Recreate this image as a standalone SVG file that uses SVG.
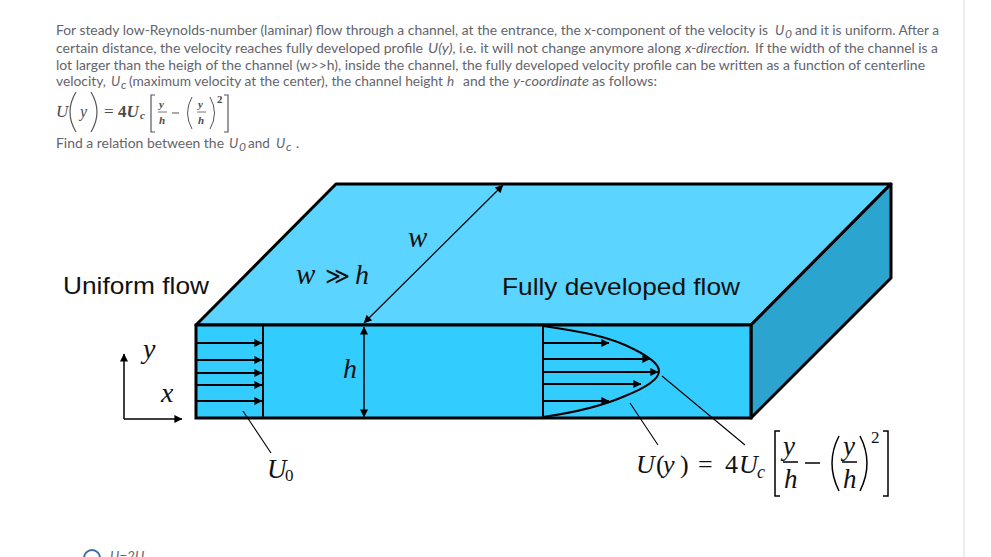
<svg xmlns="http://www.w3.org/2000/svg" width="991" height="557" viewBox="0 0 991 557">
<style>
.t{font-family:"Lato","Open Sans","Liberation Sans",sans-serif;font-size:13.5px;fill:#64646c}
.i{font-style:italic}
.s{font-size:12px}
.f{font-family:"Liberation Serif","DejaVu Serif",serif;fill:#4a4a4a}
.m{font-family:"Liberation Serif","DejaVu Serif",serif;fill:#111}
.mi{font-style:italic}
.l{font-family:"Liberation Sans",Arial,sans-serif;font-size:24.5px;fill:#111}
.k{stroke:#000;fill:none}
.e{stroke:#000;fill:none;stroke-width:2}
.a{stroke:#000;fill:none;stroke-width:1.8}
.b{stroke-linejoin:round}
</style>
<defs>
<marker id="ah" viewBox="0 0 10 10" refX="9.5" refY="5" markerWidth="9" markerHeight="8" markerUnits="userSpaceOnUse" orient="auto-start-reverse"><path d="M0 0L10 5L0 10Z" fill="#000"/></marker>
</defs>
<rect width="991" height="557" fill="#fff"/>
<rect x="963" y="0" width="2" height="557" fill="#eeeeee"/>
<g id="question-text">
<text class="t" x="56" y="35" textLength="712" lengthAdjust="spacingAndGlyphs">For steady low-Reynolds-number (laminar) flow through a channel, at the entrance, the x-component of the velocity is</text>
<text class="t i" x="775" y="35">U</text><text class="t i s" x="785" y="38">0</text>
<text class="t" x="795" y="35" textLength="144" lengthAdjust="spacingAndGlyphs">and it is uniform. After a</text>
<text class="t" x="56" y="53" textLength="367" lengthAdjust="spacingAndGlyphs">certain distance, the velocity reaches fully developed profile</text>
<text class="t i" x="428" y="53" textLength="28" lengthAdjust="spacingAndGlyphs">U(y),</text>
<text class="t" x="459" y="53" textLength="222" lengthAdjust="spacingAndGlyphs">i.e.  it will not change anymore along</text>
<text class="t i" x="685" y="53" textLength="65" lengthAdjust="spacingAndGlyphs">x-direction.</text>
<text class="t" x="755" y="53" textLength="183" lengthAdjust="spacingAndGlyphs">If the width of the channel is a</text>
<text class="t" x="56" y="70" textLength="869" lengthAdjust="spacingAndGlyphs">lot larger than the heigh of the channel (w&gt;&gt;h), inside the channel, the fully developed velocity profile can be written as a function of centerline</text>
<text class="t" x="56" y="86" textLength="50" lengthAdjust="spacingAndGlyphs">velocity,</text>
<text class="t i" x="111" y="86">U</text><text class="t i s" x="121" y="89">c</text>
<text class="t" x="129" y="86" textLength="314" lengthAdjust="spacingAndGlyphs">(maximum velocity at the center), the channel height</text>
<text class="t i" x="447" y="86">h</text>
<text class="t" x="463" y="86" textLength="46" lengthAdjust="spacingAndGlyphs">and the</text>
<text class="t i" x="513" y="86" textLength="76" lengthAdjust="spacingAndGlyphs">y-coordinate</text>
<text class="t" x="592" y="86" textLength="65" lengthAdjust="spacingAndGlyphs">as follows:</text>
<text class="t" x="56" y="148" textLength="168" lengthAdjust="spacingAndGlyphs">Find a relation between the</text>
<text class="t i" x="229" y="148">U</text><text class="t i s" x="239" y="151">0</text>
<text class="t" x="248" y="148">and</text>
<text class="t i" x="276" y="148">U</text><text class="t i s" x="286" y="151">c</text>
<text class="t" x="296" y="148">.</text>
</g>
<g id="question-formula">
<text class="f mi" x="56" y="117" font-size="17">U</text>
<path d="M76 92Q64 112 76 132M91 92Q103 112 91 132" fill="none" stroke="#555" stroke-width="1.200"/>
<text class="f mi" x="80" y="117" font-size="16">y</text>
<text class="f" x="104" y="117" font-size="17">=</text>
<text class="f" x="118" y="117" font-size="17" font-weight="bold">4<tspan class="mi">U</tspan></text>
<text class="f mi" x="140" y="119" font-size="11" font-weight="bold">c</text>
<path d="M155 95H151V132H155M224 95H228V132H224" fill="none" stroke="#556" stroke-width="1.200"/>
<text class="f mi" x="159" y="108" font-size="11" font-weight="bold">y</text>
<path d="M158 112H167" stroke="#555" stroke-width="0.800"/>
<text class="f mi" x="159" y="124" font-size="11" font-weight="bold">h</text>
<path d="M172 113H179" stroke="#555" stroke-width="1"/>
<path d="M192 97Q183 113 192 129M210 97Q219 113 210 129" fill="none" stroke="#555" stroke-width="1"/>
<text class="f mi" x="198" y="108" font-size="11" font-weight="bold">y</text>
<path d="M197 112H206" stroke="#555" stroke-width="0.800"/>
<text class="f mi" x="198" y="124" font-size="11" font-weight="bold">h</text>
<text class="f" x="217" y="103" font-size="11" font-weight="bold">2</text>
</g>
<g id="channel">
<path class="b" d="M196 325L336 184H891L751 325Z" fill="#5BD5FF" stroke="#000" stroke-width="3"/>
<path class="b" d="M751 325L891 184V278L751 418Z" fill="#2BA5CF" stroke="#000" stroke-width="3"/>
<rect x="196" y="325" width="555" height="93" fill="#33CCFF" stroke="#000" stroke-width="3"/>
</g>
<g id="connectors">
<path class="e" d="M263 325V418"/>
<path class="a" d="M197 343H262" marker-end="url(#ah)"/>
<path class="a" d="M197 360H262" marker-end="url(#ah)"/>
<path class="a" d="M197 373H262" marker-end="url(#ah)"/>
<path class="a" d="M197 385H262" marker-end="url(#ah)"/>
<path class="a" d="M197 401H262" marker-end="url(#ah)"/>
<path class="e" d="M543 326V417"/>
<path class="e" d="M543 326C585 332 607 337 625 345C645 354 659 363 659 371C659 379 645 388 625 396C607 404 585 411 543 417"/>
<path class="a" d="M543 343H609" marker-end="url(#ah)"/>
<path class="a" d="M543 359H650" marker-end="url(#ah)"/>
<path class="a" d="M543 372H658" marker-end="url(#ah)"/>
<path class="a" d="M543 384H641" marker-end="url(#ah)"/>
<path class="a" d="M543 401H609" marker-end="url(#ah)"/>
<path class="k" stroke-width="1.500" d="M364 327V417" marker-start="url(#ah)" marker-end="url(#ah)"/>
<path class="k" stroke-width="1.200" d="M364 323L503 185" marker-start="url(#ah)" marker-end="url(#ah)"/>
<path class="k" stroke-width="1.500" d="M124 419V354" marker-end="url(#ah)"/>
<path class="k" stroke-width="1.500" d="M124 419H182" marker-end="url(#ah)"/>
<path class="k" stroke-width="1.100" d="M243 411L271 453M630 403L658 445M662 376L745 445"/>
</g>
<g id="labels">
<text class="l" x="63" y="294" textLength="146" lengthAdjust="spacingAndGlyphs">Uniform flow</text>
<text class="l" x="502" y="295" textLength="238" lengthAdjust="spacingAndGlyphs">Fully developed flow</text>
<text class="m mi" x="408" y="247" font-size="29">w</text>
<text class="m mi" x="296" y="284" font-size="29">w</text>
<text class="m" x="325" y="284" font-size="24">≫</text>
<text class="m mi" x="355" y="284" font-size="28">h</text>
<text class="m mi" x="343" y="378" font-size="28">h</text>
<text class="m mi" x="143" y="358" font-size="28">y</text>
<text class="m mi" x="161" y="402" font-size="28">x</text>
<text class="m mi" x="267" y="478" font-size="27">U</text>
<text class="m" x="285" y="481" font-size="17">0</text>
</g>
<g id="profile-formula">
<text class="m mi" x="636" y="473" font-size="26">U</text>
<text class="m" x="656" y="473" font-size="26">(</text>
<text class="m mi" x="663" y="473" font-size="26">y</text>
<text class="m" x="680" y="473" font-size="26">)</text>
<text class="m" x="698" y="473" font-size="26">=</text>
<text class="m" x="725" y="473" font-size="26">4</text>
<text class="m mi" x="739" y="473" font-size="26">U</text>
<text class="m mi" x="757" y="478" font-size="18">c</text>
<path class="k" stroke-width="1.500" d="M780 431H775V496H780M883 431H888V496H883"/>
<text class="m mi" x="783" y="455" font-size="27">y</text>
<path class="k" stroke-width="1.500" d="M783 462H798"/>
<text class="m mi" x="784" y="488" font-size="27">h</text>
<path class="k" stroke-width="1.500" d="M805 463H820"/>
<path class="k" stroke-width="1.500" d="M839 436Q825 463 839 491M860 436Q874 463 860 491"/>
<text class="m mi" x="843" y="455" font-size="27">y</text>
<path class="k" stroke-width="1.500" d="M842 462H857"/>
<text class="m mi" x="843" y="488" font-size="27">h</text>
<text class="m" x="871" y="443" font-size="17">2</text>
</g>
<g id="answer-option">
<circle cx="92" cy="558" r="8" fill="#fff" stroke="#3a6ea5" stroke-width="2"/>
<text class="t i" x="110" y="561">U=2U</text>
</g>
</svg>
